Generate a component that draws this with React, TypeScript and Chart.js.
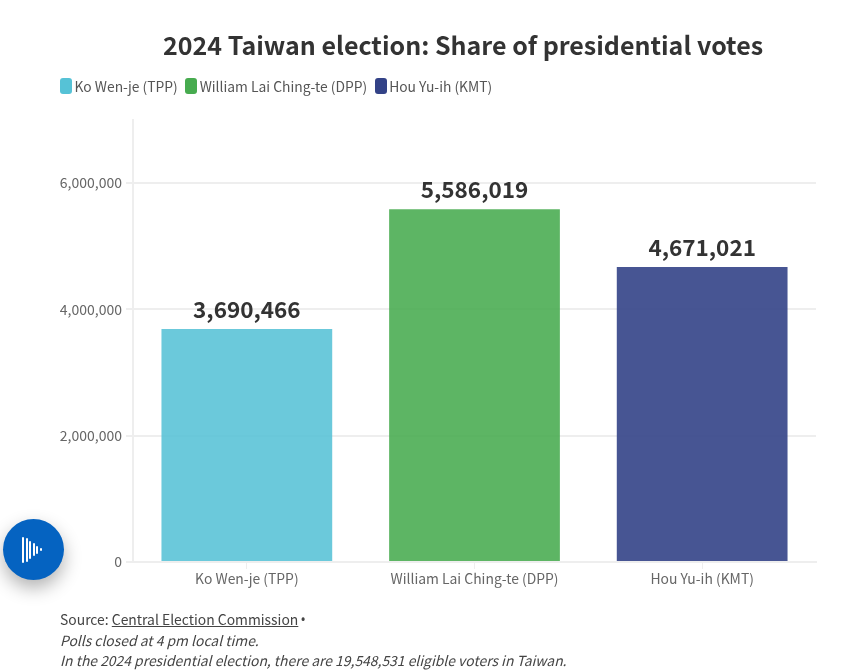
import { useEffect, useRef } from 'react'
import Chart from 'chart.js/auto'

const candidates = ['Ko Wen-je (TPP)', 'William Lai Ching-te (DPP)', 'Hou Yu-ih (KMT)']
const votes = [3690466, 5586019, 4671021]
const swatches = ['#56c2d6', '#47ab4f', '#334287']
const barColors = ['rgba(86,194,214,0.88)', 'rgba(71,171,79,0.88)', 'rgba(51,66,135,0.9)']
const yMax = 7000000
const yTicks = [0, 2000000, 4000000, 6000000]

const FONT = '"Noto Sans CJK SC", "Noto Sans", sans-serif'
const waveBars = [26, 24, 18, 13, 8, 3]

const valueLabels = {
  id: 'valueLabels',
  afterDatasetsDraw(chart: Chart) {
    const { ctx } = chart
    const meta = chart.getDatasetMeta(0)
    ctx.save()
    ctx.font = `700 22.5px ${FONT}`
    ctx.fillStyle = '#333333'
    ctx.textAlign = 'center'
    ctx.textBaseline = 'alphabetic'
    meta.data.forEach((bar, i) => {
      ctx.fillText(votes[i].toLocaleString('en-US'), bar.x, bar.y - 11)
    })
    ctx.restore()
  },
}

export default function App() {
  const canvasRef = useRef<HTMLCanvasElement>(null)

  useEffect(() => {
    if (!canvasRef.current) return
    const chart = new Chart(canvasRef.current, {
      type: 'bar',
      data: {
        labels: candidates,
        datasets: [
          {
            data: votes,
            backgroundColor: barColors,
            barPercentage: 0.75,
            categoryPercentage: 1,
          },
        ],
      },
      plugins: [valueLabels],
      options: {
        responsive: false,
        animation: false,
        layout: { padding: { top: 120, right: 44, bottom: 0, left: 0 } },
        plugins: {
          legend: { display: false },
          title: { display: false },
          tooltip: { enabled: false },
        },
        scales: {
          x: {
            afterFit: (scale) => { scale.height = 110 },
            grid: { offset: false, drawOnChartArea: false, drawTicks: true, tickLength: 7, color: '#eeeeee' },
            border: { color: '#eeeeee', width: 2 },
            ticks: { color: '#666666', font: { family: FONT, size: 13.9 }, padding: 1 },
          },
          y: {
            min: 0,
            max: yMax,
            afterFit: (scale) => { scale.width = 133 },
            afterBuildTicks: (scale) => { scale.ticks = yTicks.map((value) => ({ value })) },
            grid: { color: '#eeeeee', lineWidth: 2, tickLength: 7 },
            border: { color: '#eeeeee', width: 2 },
            ticks: {
              color: '#666666',
              font: { family: FONT, size: 14 },
              padding: 4,
              callback: (v) => Number(v).toLocaleString('en-US'),
            },
          },
        },
      },
    })
    return () => { chart.destroy() }
  }, [])

  return (
    <div style={{ position: 'absolute', left: 0, top: 0, width: 860, height: 672, overflow: 'hidden', background: '#fff', fontFamily: FONT }}>
      <canvas ref={canvasRef} width={860} height={672} style={{ position: 'absolute', left: 0, top: 0 }} />

      <div style={{ position: 'absolute', left: 163, top: 25, fontSize: 25, lineHeight: '39px', fontWeight: 700, color: '#333', whiteSpace: 'nowrap' }}>
        2024 Taiwan election: Share of presidential votes
      </div>

      {/* Legend */}
      <div style={{ position: 'absolute', left: 60, top: 75, display: 'flex', gap: 7.5, fontSize: 13.85, lineHeight: '22px', color: '#555', whiteSpace: 'nowrap' }}>
        {candidates.map((c, i) => (
          <span key={c} style={{ display: 'flex', alignItems: 'center', gap: 2.5 }}>
            <span style={{ width: 12, height: 16, borderRadius: 3, background: swatches[i], display: 'inline-block' }} />
            {c}
          </span>
        ))}
      </div>

      {/* Audio button */}
      <div style={{ position: 'absolute', left: 3, top: 519, width: 61, height: 61, borderRadius: '50%', background: '#0563c1', boxShadow: '0 8px 18px rgba(0,0,0,0.3)', display: 'flex', alignItems: 'center', justifyContent: 'center', gap: 1.5, paddingRight: 3, boxSizing: 'border-box' }}>
        {waveBars.map((h, i) => (
          <span key={i} style={{ width: 2, height: h, borderRadius: 1, background: '#fff', display: 'block' }} />
        ))}
      </div>

      {/* Footer */}
      <div style={{ position: 'absolute', left: 60, top: 609, fontSize: 13.9, lineHeight: '20px', color: '#444', whiteSpace: 'nowrap' }}>
        <div>Source: <span style={{ textDecoration: 'underline' }}>Central Election Commission</span> <span style={{ fontFamily: '"Noto Sans"', marginLeft: -1 }}>•</span></div>
        <div style={{ fontStyle: 'italic' }}>Polls closed at 4 pm local time.</div>
        <div style={{ fontStyle: 'italic' }}>In the 2024 presidential election, there are 19,548,531 eligible voters in Taiwan.</div>
      </div>
    </div>
  )
}
